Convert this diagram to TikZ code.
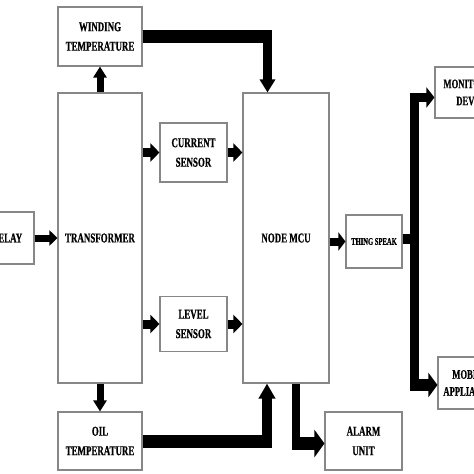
\documentclass[tikz,border=0pt]{standalone}
\usepackage{fontspec}
\newfontfamily\lbl[FakeStretch=0.66, FakeBold=0.6]{Liberation Serif Bold}
\usetikzlibrary{arrows.meta}
\definecolor{boxgray}{RGB}{135,135,135}
\begin{document}
\begin{tikzpicture}[x=1pt,y=-1pt,
  box/.style={draw=boxgray, line width=1.1pt, fill=white, inner sep=0pt, align=center,
    font=\lbl\fontsize{13.5}{19.5}\selectfont},
  sz/.style 2 args={minimum width=#1pt, minimum height=#2pt},
  arr/.style n args={3}{draw=black, line width=#1, line join=miter, -{Triangle[length=#2,width=#3]}},
  bar/.style={draw=black, line width=#1, line join=miter}
]
\path[use as bounding box, clip] (0,0) rectangle (474,474);
\fill[white] (0,0) rectangle (474,474);

% nodes
\node[box, sz={84}{59}] (wind) at (100,36.5) {WINDING\\TEMPERATURE};
\node[box, sz={84}{290}] (trans) at (100,238) {TRANSFORMER};
\node[box, sz={67}{59}] (curr) at (193.5,152.5) {CURRENT\\SENSOR};
\node[box, sz={67}{55}] (level) at (193.5,324) {LEVEL\\SENSOR};
\node[box, sz={84}{58}] (oil) at (100,441) {OIL\\TEMPERATURE};
\node[box, sz={54}{52}] (relay) at (7,238) {RELAY};
\node[box, sz={86}{290}] (mcu) at (286,238) {NODE MCU};
\node[box, sz={56}{53}, font=\lbl\fontsize{10}{12}\selectfont] (ts) at (374,241.5) {THING SPEAK};
\node[box, sz={76}{51}, font=\lbl\fontsize{13}{17}\selectfont] (mon) at (473,92.5) {MONITORING\\DEVICE};
\node[box, sz={64}{52}, font=\lbl\fontsize{13}{17}\selectfont] (mob) at (470,383) {MOBILE\\APPLIATION};
\node[box, sz={77}{58}] (alarm) at (363.5,441) {ALARM\\UNIT};

% helper coordinates
\coordinate (wc) at (267.5,30);
\coordinate (we) at (272,36.5);
\coordinate (oc) at (267,447.5);
\coordinate (oe) at (272,441);
\coordinate (ac) at (296,450);
\coordinate (as) at (291.7,443.5);
\coordinate (bus) at (414.5,239);
\coordinate (btop) at (414.5,93);
\coordinate (bbot) at (414.5,391);
\coordinate (mons) at (410,97.5);
\coordinate (mobs) at (410,385);

% arrows
\draw[arr={7pt}{11pt}{13pt}] (trans.north) -- (wind.south);
\draw[arr={7pt}{11pt}{13pt}] (trans.south) -- (oil.north);
\draw[arr={7pt}{8pt}{15pt}] (relay.east) -- (relay.east -| trans.west);
\draw[arr={9pt}{9pt}{18pt}] (curr.west -| trans.east) -- (curr.west);
\draw[arr={9pt}{9pt}{18pt}] (curr.east) -- (curr.east -| mcu.west);
\draw[arr={9pt}{9pt}{18pt}] (level.west -| trans.east) -- (level.west);
\draw[arr={9pt}{9pt}{18pt}] (level.east) -- (level.east -| mcu.west);
\draw[arr={8pt}{7pt}{18pt}] (mcu.east |- ts.west) -- (ts.west);

% winding -> mcu
\draw[bar=13pt] (wind.east) -- (we);
\draw[arr={9pt}{13pt}{15pt}] (wc) -- (wc |- mcu.north);
% oil -> mcu
\draw[bar=13pt] (oil.east) -- (oe);
\draw[arr={10pt}{15pt}{16pt}] (oc) -- (oc |- mcu.south);
% mcu -> alarm
\draw[bar=8.5pt] (ac |- mcu.south) -- (ac);
\draw[arr={13pt}{10pt}{27pt}] (as) -- (as -| alarm.west);
% thingspeak -> bus -> devices
\draw[bar=10pt] (ts.east |- bus) -- (bus);
\draw[bar=9pt] (btop) -- (bbot);
\draw[arr={9pt}{8pt}{20pt}] (mons) -- (mons -| mon.west);
\draw[arr={12pt}{9pt}{24pt}] (mobs) -- (mobs -| mob.west);
\end{tikzpicture}
\end{document}
